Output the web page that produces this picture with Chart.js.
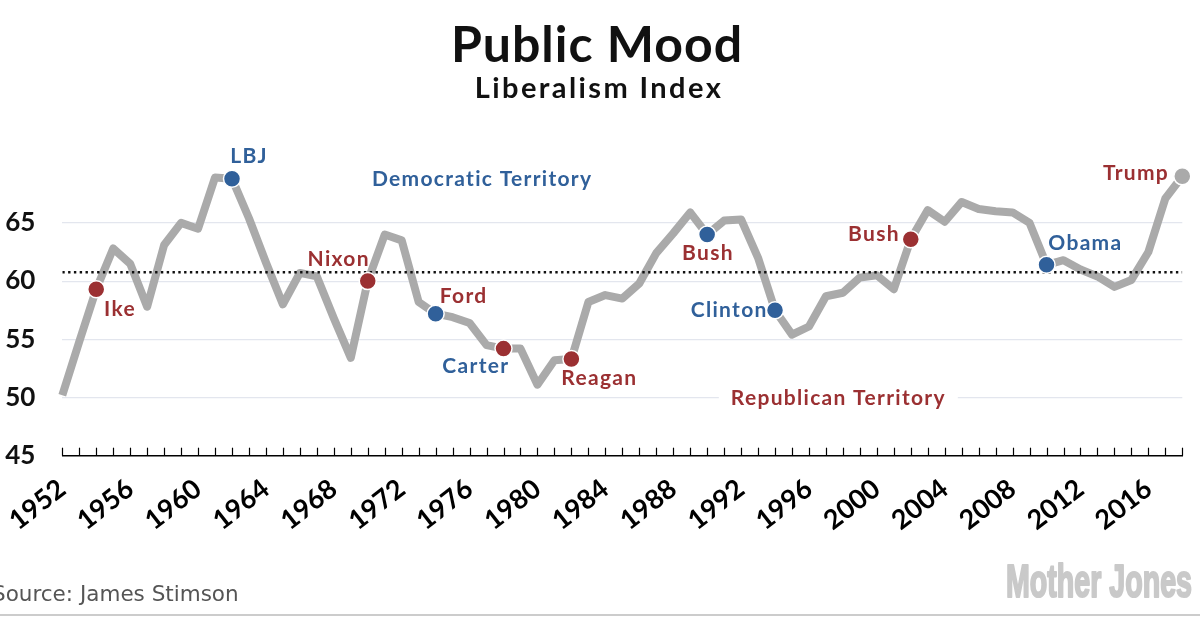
<!DOCTYPE html>
<html><head><meta charset="utf-8">
<script src="https://cdn.jsdelivr.net/npm/chart.js@4"></script>
<style>html,body{margin:0;padding:0;background:#fff;overflow:hidden}#wrap{width:1200px;height:617px;position:relative}</style>
</head><body><div id="wrap"><canvas id="c"></canvas></div>
<script>
// ---- data ----
const years = [1952,1953,1954,1955,1956,1957,1958,1959,1960,1961,1962,1963,1964,1965,1966,1967,1968,1969,1970,1971,1972,1973,1974,1975,1976,1977,1978,1979,1980,1981,1982,1983,1984,1985,1986,1987,1988,1989,1990,1991,1992,1993,1994,1995,1996,1997,1998,1999,2000,2001,2002,2003,2004,2005,2006,2007,2008,2009,2010,2011,2012,2013,2014,2015,2016,2017,2018];
const mood = [50.2,54.8,59.3,62.8,61.5,57.8,63.1,65.0,64.5,68.9,68.8,65.4,61.6,58.0,60.7,60.4,56.8,53.4,60.0,64.0,63.5,58.2,57.2,56.9,56.4,54.5,54.2,54.2,51.1,53.2,53.3,58.2,58.8,58.5,59.8,62.4,64.1,65.9,64.0,65.2,65.3,62.0,57.5,55.4,56.1,58.7,59.0,60.3,60.5,59.3,63.6,66.1,65.1,66.8,66.2,66.0,65.9,65.0,61.4,61.8,61.0,60.4,59.5,60.1,62.5,67.1,69.0];
const averageMood = 60.76;
const yTickValues = [45,50,55,60,65];
const xTickLabels = [1952,1956,1960,1964,1968,1972,1976,1980,1984,1988,1992,1996,2000,2004,2008,2012,2016];
const presidents = ['Ike','LBJ','Nixon','Ford','Carter','Reagan','Bush','Clinton','Bush','Obama','Trump'];
const presidentYears = [1954,1962,1970,1974,1978,1982,1990,1994,2002,2010,2018];
const dotParty = ['R','D','R','D','R','R','D','D','R','D','N'];
const labelParty = ['R','D','R','R','D','R','R','D','R','D','R'];
const territoryNames = ['Democratic Territory','Republican Territory'];
const territoryParty = ['D','R'];

// ---- layout / styles (not data) ----
const COLORS = {D:'#30609a', R:'#9b3032', N:'#aaaaaa'};
const labelAnchors = [[1955.4,57.61],[1963.0,70.75],[1968.29,61.97],[1975.65,58.73],[1976.37,52.78],[1983.65,51.7],[1990.05,62.42],[1991.3,57.53],[1999.83,64.05],[2012.29,63.32],[2015.27,69.33]];
const territoryAnchors = [[1976.74,68.84],[1997.73,50.02]];

const lineData = years.map((y,i)=>({x:y,y:mood[i]}));
const dotData = presidentYears.map(y=>({x:y,y:mood[years.indexOf(y)]}));
const avgData = [{x:years[0],y:averageMood},{x:years[years.length-1],y:averageMood}];

const decor = {
  id:'decor',
  afterDraw(chart){
    const ctx = chart.ctx, xs = chart.scales.x, ys = chart.scales.y;
    ctx.save();
    // upward ticks
    const yb = ys.getPixelForValue(45);
    ctx.strokeStyle = '#000'; ctx.lineWidth = 1.2;
    years.forEach(yr=>{
      const px = Math.round(xs.getPixelForValue(yr))+0.5;
      ctx.beginPath(); ctx.moveTo(px,yb); ctx.lineTo(px,yb-8); ctx.stroke();
    });
    // titles
    ctx.fillStyle = '#111'; ctx.textAlign='center'; ctx.textBaseline='alphabetic';
    ctx.font = 'bold 50px Lato'; ctx.letterSpacing = '1px'; ctx.fillText('Public Mood', 597, 62);
    ctx.font = 'bold 29px Lato'; ctx.letterSpacing = '2.4px'; ctx.fillText('Liberalism Index', 599, 98);
    // president labels
    ctx.font = 'bold 21px Lato'; ctx.letterSpacing = '1.3px';
    presidents.forEach((name,i)=>{
      const [ax,ay] = labelAnchors[i];
      ctx.fillStyle = COLORS[labelParty[i]];
      ctx.fillText(name, xs.getPixelForValue(ax), ys.getPixelForValue(ay)+7.5);
    });
    // territory labels
    territoryNames.forEach((t,i)=>{
      const [ax,ay] = territoryAnchors[i];
      const px = xs.getPixelForValue(ax), py = ys.getPixelForValue(ay);
      const w = ctx.measureText(t).width;
      if (i===1){ ctx.fillStyle='#fff'; ctx.fillRect(px-w/2-12, py-12, w+24, 24); }
      ctx.fillStyle = COLORS[territoryParty[i]];
      ctx.fillText(t, px, py+7.5);
    });
    ctx.letterSpacing = '0px';
    // source
    ctx.textAlign='left'; ctx.fillStyle='#555'; ctx.font='21.5px "DejaVu Sans"';
    ctx.fillText('Source: James Stimson', -8, 601);
    // logo
    ctx.font = 'bold 46px "Liberation Sans"';
    const lw = ctx.measureText('Mother Jones').width;
    ctx.save(); ctx.translate(1006,597); ctx.scale(186/lw,1);
    ctx.fillStyle='#c9c9c9'; ctx.strokeStyle='#c9c9c9'; ctx.lineWidth=2.2; ctx.lineJoin='round';
    ctx.fillText('Mother Jones',0,0); ctx.strokeText('Mother Jones',0,0); ctx.restore();
    // bottom rule
    ctx.fillStyle='#cccccc'; ctx.fillRect(0,614,1200,2);
    ctx.restore();
  }
};

new Chart(document.getElementById('c'), {
  type:'line',
  data:{datasets:[
    {data:dotData, type:'scatter', order:0, pointRadius:8.5, pointHoverRadius:8.5,
     pointBackgroundColor:dotParty.map(p=>COLORS[p]), pointBorderColor:'#fff', pointBorderWidth:1.5, showLine:false, clip:false},
    {data:avgData, order:1, borderColor:'#111', borderWidth:2.5, borderDash:[2.4,3.4], pointRadius:0, fill:false},
    {data:lineData, order:2, borderColor:'#aaaaaa', borderWidth:8, borderJoinStyle:'round', pointRadius:0, tension:0, fill:false, clip:false}
  ]},
  options:{
    responsive:true, maintainAspectRatio:false, animation:false,
    devicePixelRatio:1,
    layout:{padding:{top:164.7,right:17.7,bottom:61.3,left:0}},
    plugins:{legend:{display:false}, tooltip:{enabled:false}},
    scales:{
      x:{type:'linear', min:1952, max:2018,
        afterFit(s){ s.height = 100; s.paddingLeft = 0; s.paddingRight = 0; },
        grid:{display:false, drawTicks:false},
        border:{display:true, color:'#000', width:1.5},
        ticks:{stepSize:1, autoSkip:false, minRotation:38, maxRotation:38, padding:17,
          font:{family:'Lato', weight:'bold', size:27}, color:'#000',
          callback:v=> xTickLabels.includes(v) ? String(v) : ''}
      },
      y:{min:45, max:70,
        afterFit(s){ s.width = 62.3; },
        grid:{drawTicks:false, color:c=> (c.tick && c.tick.value>45 && c.tick.value<=65) ? '#e3e6ee' : 'rgba(0,0,0,0)', lineWidth:1.2},
        border:{display:false},
        ticks:{stepSize:5, padding:27, font:{family:'Lato', weight:'bold', size:26}, color:'#111',
          callback:v=> yTickValues.includes(v) ? String(v) : ''}
      }
    }
  },
  plugins:[decor]
});
</script>
</body></html>
